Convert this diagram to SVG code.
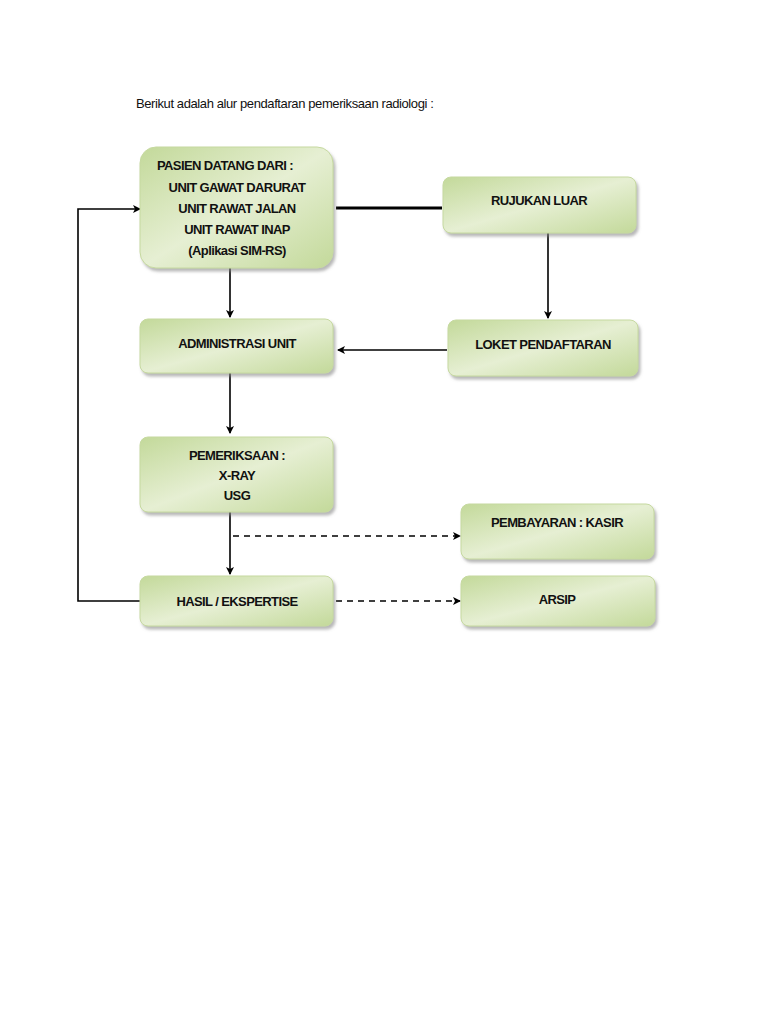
<svg xmlns="http://www.w3.org/2000/svg" width="768" height="1024" viewBox="0 0 768 1024">
<style>
.n{fill:url(#g);stroke:#c6d9a0;stroke-width:1;filter:url(#s)}
.t{font-family:"Liberation Sans",Arial,sans-serif;font-size:13px;font-weight:bold;fill:#111;text-anchor:middle;letter-spacing:-0.6px}
.c{stroke:#000;stroke-width:1.6;fill:none}
.d{stroke-dasharray:6,5}
</style>
<defs>
<linearGradient id="g" x1="0" y1="0" x2="1" y2="1"><stop offset="0" stop-color="#c3d99a"/><stop offset="0.5" stop-color="#e6efd3"/><stop offset="1" stop-color="#c3d99a"/></linearGradient>
<filter id="s" x="-10%" y="-10%" width="130%" height="130%"><feDropShadow dx="2" dy="3" stdDeviation="1.5" flood-color="#888" flood-opacity="0.6"/></filter>
<marker id="a" markerWidth="8" markerHeight="8" refX="7" refY="4" orient="auto" markerUnits="userSpaceOnUse"><path d="M0,0 L8,4 L0,8 L2,4 Z" fill="#000"/></marker>
</defs>
<rect width="768" height="1024" fill="#fff"/>
<text x="136" y="108" style="font-family:'Liberation Sans',Arial,sans-serif;font-size:13px;fill:#111;letter-spacing:-0.4px">Berikut adalah alur pendaftaran pemeriksaan radiologi :</text>
<g id="connectors">
<line class="c" x1="336" y1="208" x2="442" y2="208" style="stroke-width:3"/>
<line class="c" x1="230" y1="268" x2="230" y2="317" marker-end="url(#a)"/>
<line class="c" x1="548" y1="233" x2="548" y2="318" marker-end="url(#a)"/>
<line class="c" x1="447" y1="350" x2="338" y2="350" marker-end="url(#a)"/>
<line class="c" x1="230" y1="373" x2="230" y2="433" marker-end="url(#a)"/>
<line class="c" x1="230" y1="512" x2="230" y2="574" marker-end="url(#a)"/>
<line class="c d" x1="233" y1="536" x2="460" y2="536" marker-end="url(#a)"/>
<line class="c d" x1="336" y1="601" x2="460" y2="601" marker-end="url(#a)"/>
<polyline class="c" points="140,601 78,601 78,209 140,209" marker-end="url(#a)"/>
</g>
<g id="pasien"><rect class="n" x="140" y="147" width="193" height="121" rx="16"/>
<text class="t" x="225" y="170">PASIEN DATANG DARI :</text>
<text class="t" x="237" y="192">UNIT GAWAT DARURAT</text>
<text class="t" x="237" y="213">UNIT RAWAT JALAN</text>
<text class="t" x="237" y="234">UNIT RAWAT INAP</text>
<text class="t" x="237" y="255">(Aplikasi SIM-RS)</text></g>
<g id="rujukan"><rect class="n" x="443" y="177" width="193" height="56" rx="8"/><text class="t" x="539" y="205">RUJUKAN LUAR</text></g>
<g id="admin"><rect class="n" x="140" y="319" width="193" height="54" rx="8"/><text class="t" x="237" y="348">ADMINISTRASI UNIT</text></g>
<g id="loket"><rect class="n" x="448" y="320" width="190" height="56" rx="8"/><text class="t" x="543" y="349">LOKET PENDAFTARAN</text></g>
<g id="periksa"><rect class="n" x="140" y="437" width="193" height="75" rx="8"/>
<text class="t" x="237" y="460">PEMERIKSAAN :</text><text class="t" x="237" y="480">X-RAY</text><text class="t" x="237" y="500">USG</text></g>
<g id="kasir"><rect class="n" x="461" y="504" width="193" height="55" rx="8"/><text class="t" x="557" y="527">PEMBAYARAN : KASIR</text></g>
<g id="hasil"><rect class="n" x="140" y="576" width="193" height="50" rx="8"/><text class="t" x="237" y="606">HASIL / EKSPERTISE</text></g>
<g id="arsip"><rect class="n" x="461" y="576" width="194" height="50" rx="8"/><text class="t" x="557" y="604">ARSIP</text></g>
</svg>
